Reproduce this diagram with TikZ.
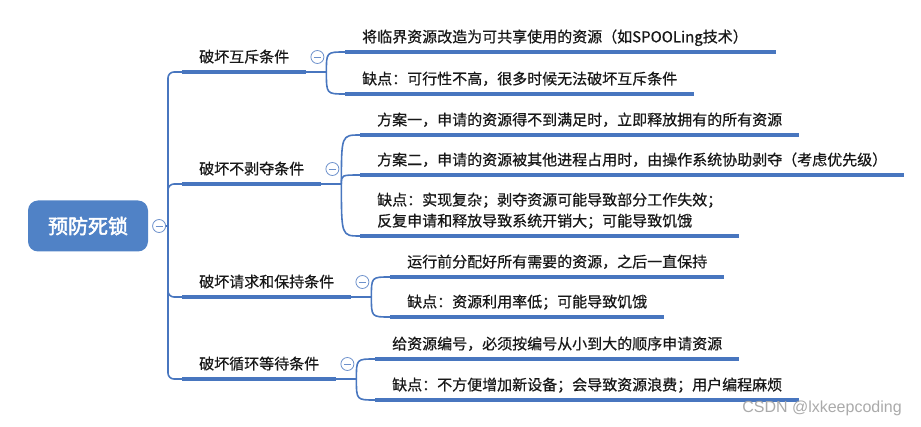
\documentclass[tikz,border=0pt]{standalone}
\usepackage{fontspec}
\setmainfont{Noto Sans CJK SC}[FakeBold=0.6]
\newfontfamily\rootfont{Noto Sans CJK SC}[FakeBold=2.2]
\newfontfamily\markfont{Liberation Sans}
\usetikzlibrary{positioning,calc}
\definecolor{mapLine}{RGB}{72,118,191}
\definecolor{mapRoot}{RGB}{80,130,198}
\definecolor{mapText}{RGB}{24,24,24}
\definecolor{mapMark}{RGB}{170,170,170}

\begin{document}
\begin{tikzpicture}[x=1pt,y=-1pt,
    mapnode/.style={anchor=south west, inner xsep=17pt, text=mapText, font=\fontsize{15}{21}\selectfont},
    topic/.style={mapnode, inner ysep=0pt, text height=17.5pt, text depth=9.5pt},
    note/.style={mapnode, align=left, inner ysep=7pt},
    root/.style={fill=mapRoot, rounded corners=10pt, minimum width=120pt, minimum height=51pt, text=white, font=\rootfont\fontsize{20}{24}\selectfont},
    fold/.style={circle, draw=mapLine!80, fill=white, line width=0.8pt, minimum size=13pt, inner sep=0pt,
      path picture={\draw[mapLine!80, line width=0.8pt] ($(path picture bounding box.center)+(-3.5,0)$) -- ++(7,0);}},
    link/.style={draw=mapLine, line width=1.6pt},
    bar/.style={draw=mapLine, line width=3.6pt}]
  \useasboundingbox (0,0) rectangle (921,427);

  \node[root] (root) at (88,226) {预防死锁};
  \node[fold, right=4pt of root] (rootFold) {};
  \coordinate (trunk) at (168,226);

  \node[topic] (mutex) at (182,72) {破坏互斥条件};
  \node[topic] (preempt) at (182,184) {破坏不剥夺条件};
  \node[topic] (hold) at (182,297) {破坏请求和保持条件};
  \node[topic] (wait) at (182,379) {破坏循环等待条件};

  \node[topic, text width=397pt, align=left] (mutexA) at (345,52) {将临界资源改造为可共享使用的资源（如SPOOLing技术）};
  \node[topic] (mutexB) at (345,94) {缺点：可行性不高，很多时候无法破坏互斥条件};
  \node[topic] (preemptA) at (360,135) {方案一，申请的资源得不到满足时，立即释放拥有的所有资源};
  \node[topic] (preemptB) at (360,175) {方案二，申请的资源被其他进程占用时，由操作系统协助剥夺（考虑优先级）};
  \node[note] (preemptC) at (360,236) {缺点：实现复杂；剥夺资源可能导致部分工作失效；\\反复申请和释放导致系统开销大；可能导致饥饿};
  \node[topic] (holdA) at (390,277) {运行前分配好所有需要的资源，之后一直保持};
  \node[topic] (holdB) at (390,317) {缺点：资源利用率低；可能导致饥饿};
  \node[topic] (waitA) at (375,359) {给资源编号，必须按编号从小到大的顺序申请资源};
  \node[topic] (waitB) at (375,400) {缺点：不方便增加新设备；会导致资源浪费；用户编程麻烦};

  \draw[link] (rootFold.east) -- (trunk);
  \foreach \b in {mutex,preempt,hold,wait} {
    \draw[link, rounded corners=6pt] (trunk) |- (\b.south west);
    \coordinate (\b J) at ($(\b.south east)+(20,0)$);
    \draw[link] (\b.south east) -- (\b J);
    \node[fold] (\b Fold) at ($(\b.south east)+(11,-15)$) {};
  }
  \foreach \b/\l in {mutex/mutexA,mutex/mutexB,preempt/preemptA,preempt/preemptB,preempt/preemptC,hold/holdA,hold/holdB,wait/waitA,wait/waitB}
    \draw[link] (\b J) .. controls (\b J |- \l.south west) .. (\l.south west);
  \foreach \n in {mutex,preempt,hold,wait,mutexA,mutexB,preemptA,preemptB,preemptC,holdA,holdB,waitA,waitB}
    \draw[bar] (\n.south west) -- (\n.south east);

  \node[text=mapMark, font=\markfont\fontsize{16}{18}\selectfont] (mark) at (822,408) {CSDN @lxkeepcoding};
\end{tikzpicture}
\end{document}
